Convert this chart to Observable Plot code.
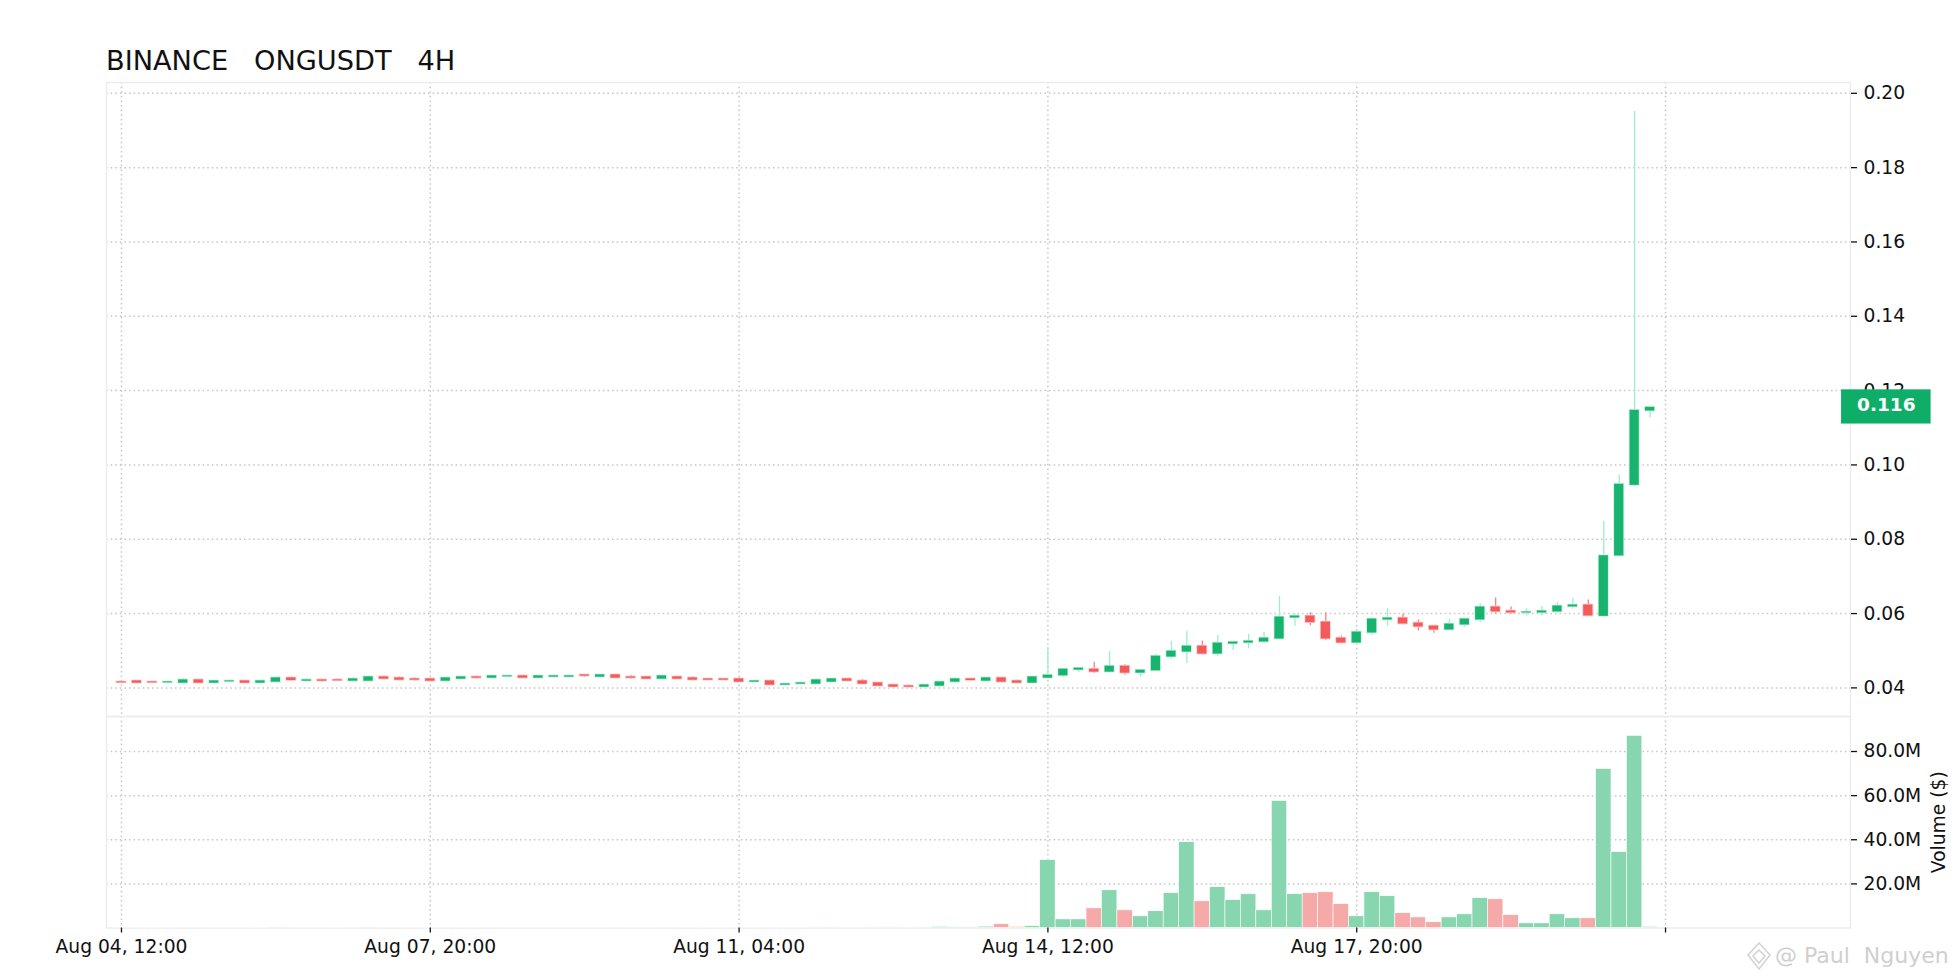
<!DOCTYPE html>
<html>
<head>
<meta charset="utf-8">
<script src="https://cdn.jsdelivr.net/npm/d3@7"></script>
<script src="https://cdn.jsdelivr.net/npm/@observablehq/plot@0.6"></script>
<style>
html,body{margin:0;padding:0;background:#fff;overflow:hidden;width:1960px;height:980px;font-family:"DejaVu Sans",sans-serif}
#title{position:absolute;left:106px;top:46px;font-size:27.2px;line-height:30px;color:#111;white-space:pre}
#price,#volume{position:absolute;left:0}
#price{top:0}
#volume{top:716px}
#mark{position:absolute;left:1746px;top:941px;display:flex;align-items:center;color:#cfcfcf;font-size:22px;line-height:30px;white-space:pre}
#mark svg{margin-right:3px}
</style>
</head>
<body>
<div id="title">BINANCE   ONGUSDT   4H</div>
<div id="price"></div>
<div id="volume"></div>
<div id="mark"><svg width="26" height="30" viewBox="0 0 26 30" fill="none" stroke="#d4d4d4" stroke-width="1.6"><path d="M13 2 L24 14 L13 28 L2 14 Z"/><path d="M13 9 L19 15 L13 22 L7 15 Z"/></svg>@ Paul  Nguyen</div>
<script>
const open = [.04162,.04189,.04162,.04135,.04126,.04216,.04126,.04162,.04189,.04126,
.04153,.0427,.0418,.04216,.04216,.0418,.0418,.04297,.0427,.04243,
.04243,.0418,.04234,.04297,.04261,.04297,.04324,.04261,.04288,.04288,
.04351,.04288,.04351,.04297,.04297,.04234,.04297,.0427,.04243,.04243,
.04243,.04153,.04189,.04072,.04099,.04099,.04153,.04243,.04189,.04135,
.04081,.04054,.04018,.04045,.04153,.04243,.0418,.0427,.04189,.04126,
.04261,.04324,.04477,.04504,.04423,.04585,.04396,.04459,.04828,.04963,
.05125,.04909,.05179,.05206,.05233,.05314,.05881,.05935,.05773,.05341,
.05206,.05476,.05827,.05881,.05746,.05665,.05557,.05692,.05827,.06178,
.0607,.06016,.06016,.06043,.06178,.06232,.05925,.0755,.0945,.1145];
const close = [.04135,.04126,.04135,.04162,.04216,.04126,.04189,.04189,.04126,.04189,
.0427,.04198,.04216,.0418,.04189,.04243,.04297,.04234,.04207,.04207,
.0418,.0427,.04297,.04261,.04324,.04324,.04261,.04324,.04324,.04324,
.04315,.04351,.04261,.04261,.04234,.04324,.04234,.04207,.04207,.04207,
.04153,.04189,.04072,.04108,.04135,.04216,.04243,.0418,.04099,.04045,
.04018,.04018,.04081,.04162,.04243,.04198,.0427,.04153,.04126,.04297,
.04342,.04504,.04531,.04423,.04585,.04396,.04477,.04855,.0499,.05125,
.04909,.05206,.05233,.0526,.05341,.05908,.05935,.05755,.05314,.05206,
.05503,.05854,.05881,.05719,.05638,.05557,.05719,.05854,.06178,.06043,
.06016,.06043,.0607,.06205,.06232,.05935,.07557,.0948,.1147,.1155];
const high = [.0418,.04198,.04171,.0418,.04243,.04225,.04198,.04216,.04198,.04198,
.04297,.04288,.04243,.04234,.04243,.04288,.04324,.04324,.04297,.0427,
.04261,.04297,.04306,.04324,.04333,.04333,.04333,.04333,.04351,.04351,
.0436,.0436,.04369,.04342,.04306,.04333,.04315,.04297,.04252,.04252,
.0427,.04207,.04198,.04126,.04153,.04243,.04261,.04252,.04225,.04144,
.04099,.04081,.04108,.0418,.0427,.04252,.04288,.04279,.04207,.04306,
.05089,.04522,.04549,.04693,.04981,.04621,.04495,.049,.05251,.05521,
.0526,.05413,.05251,.0544,.05494,.06466,.05989,.06025,.06025,.05395,
.05575,.05899,.06133,.05989,.05827,.05683,.05845,.05872,.06268,.06421,
.06178,.06133,.06187,.06295,.06403,.06367,.0848,.0973,.1951,.1158];
const low = [.04117,.04117,.04126,.04117,.04117,.04117,.04099,.04135,.04117,.04117,
.04135,.04171,.04162,.04153,.04171,.04171,.04171,.04225,.04198,.0418,
.04171,.04171,.04225,.04234,.04234,.04288,.04252,.04252,.0427,.0427,
.04288,.04279,.04252,.04234,.04225,.04225,.04225,.04198,.04198,.04198,
.04144,.04144,.04063,.04063,.0409,.0409,.04144,.04171,.0409,.04036,
.04009,.04,.04009,.04036,.04126,.04171,.04171,.04135,.04108,.04117,
.04243,.04279,.04414,.04387,.04405,.04342,.04297,.04441,.04765,.04657,
.04882,.04846,.05008,.05053,.05215,.05296,.05656,.05674,.05278,.05188,
.05188,.05413,.05665,.05692,.0553,.05467,.05539,.05629,.05755,.05989,
.0598,.05935,.05935,.06025,.06115,.05917,.0589,.0752,.0942,.1127];
const volume = [.05,.05,.04,.06,.1,.08,.06,.05,.05,.04,
.12,.1,.05,.05,.04,.08,.14,.08,.06,.05,
.05,.1,.06,.05,.08,.06,.05,.06,.05,.05,
.05,.06,.1,.05,.05,.1,.08,.05,.04,.04,
.08,.06,.1,.05,.06,.12,.12,.08,.1,.14,
.12,.1,.14,.5,.3,.3,.6,1.7,.5,.8,
30.8,3.9,3.9,8.9,17.1,8,5.3,7.6,15.8,38.9,
12.1,18.5,12.6,15.3,8,57.6,15.3,15.8,16.2,10.8,
5.3,16.2,14.4,6.7,4.8,2.6,4.8,6.2,13.5,13,
5.8,2.1,2.1,6.2,4.4,4.4,72.1,34.4,87.1,.5];
const priceTicks = [.04,.06,.08,.1,.12,.14,.16,.18,.2];
const volumeTicks = [20,40,60,80];
const xTicks = [0,20,40,60,80,100];
const xTickLabels = ["Aug 04, 12:00","Aug 07, 20:00","Aug 11, 04:00","Aug 14, 12:00","Aug 17, 20:00",""];
const lastPrice = .116;

const up="#17b36f", down="#f45a5a", upWick="#9cefcc", downWick="#f78080", upEdge="#c9f3df", downEdge="#fbd0d0";
const upVol="#88d6af", downVol="#f6a9a9";
const gridStyle={stroke:"#c8c8c8",strokeWidth:1.5,strokeDasharray:"1.6,3"};
const font={fontFamily:"DejaVu Sans, sans-serif",fontSize:"18.7px",background:"transparent",overflow:"visible"};
const axisFont={color:"#111",fontSize:18.7,strokeWidth:1.3};
const xDomain=[-0.97,111.98];
const rows=open.map((o,i)=>({i,o,c:close[i],h:high[i],l:low[i],v:volume[i],rise:close[i]>=o}));

document.getElementById("price").append(Plot.plot({
  width:1960,height:716,marginTop:82,marginBottom:0,marginLeft:106,marginRight:110,style:font,
  x:{domain:xDomain,axis:null},
  y:{domain:[.0323,.20291],axis:null},
  marks:[
    Plot.ruleY(priceTicks,gridStyle),
    Plot.ruleX(xTicks,gridStyle),
    Plot.frame({stroke:"#ececec",strokeWidth:1.4}),
    Plot.ruleX(rows,{x:"i",y1:"l",y2:"h",stroke:d=>d.rise?upWick:downWick,strokeWidth:1.3}),
    Plot.rect(rows,{x1:d=>d.i-.3,x2:d=>d.i+.3,y1:"o",y2:"c",fill:d=>d.rise?up:down,stroke:d=>d.rise?upEdge:downEdge,strokeWidth:1.6,paintOrder:"stroke"}),
    Plot.axisY(priceTicks,{anchor:"right",tickSize:6,tickPadding:7,tickFormat:d=>d.toFixed(2),label:null,...axisFont}),
    Plot.rect([lastPrice],{x1:111.4,x2:117.2,y1:d=>d-.005,y2:d=>d+.0042,fill:"#0fae68"}),
    Plot.text([lastPrice],{x:114.3,y:d=>d,text:d=>d.toFixed(3),fill:"#fff",fontWeight:"bold",fontSize:18.5})
  ]
}));

document.getElementById("volume").append(Plot.plot({
  width:1960,height:264,marginTop:0,marginBottom:52.5,marginLeft:106,marginRight:110,style:font,
  x:{domain:xDomain,axis:null},
  y:{domain:[0,95.87],axis:null},
  marks:[
    Plot.ruleY(volumeTicks,gridStyle),
    Plot.ruleX(xTicks,gridStyle),
    Plot.frame({stroke:"#ececec",strokeWidth:1.4}),
    Plot.rect(rows,{x1:d=>d.i-.5,x2:d=>d.i+.5,y1:0,y2:"v",fill:d=>d.rise?upVol:downVol,stroke:"#fff",strokeWidth:.6}),
    Plot.axisY(volumeTicks,{anchor:"right",tickSize:6,tickPadding:7,tickFormat:d=>d.toFixed(1)+"M",label:"Volume ($)",labelAnchor:"center",labelArrow:"none",labelOffset:94,...axisFont}),
    Plot.axisX(xTicks,{anchor:"bottom",tickSize:5,tickPadding:7,tickFormat:d=>xTickLabels[xTicks.indexOf(d)],label:null,...axisFont})
  ]
}));
</script>
</body>
</html>
